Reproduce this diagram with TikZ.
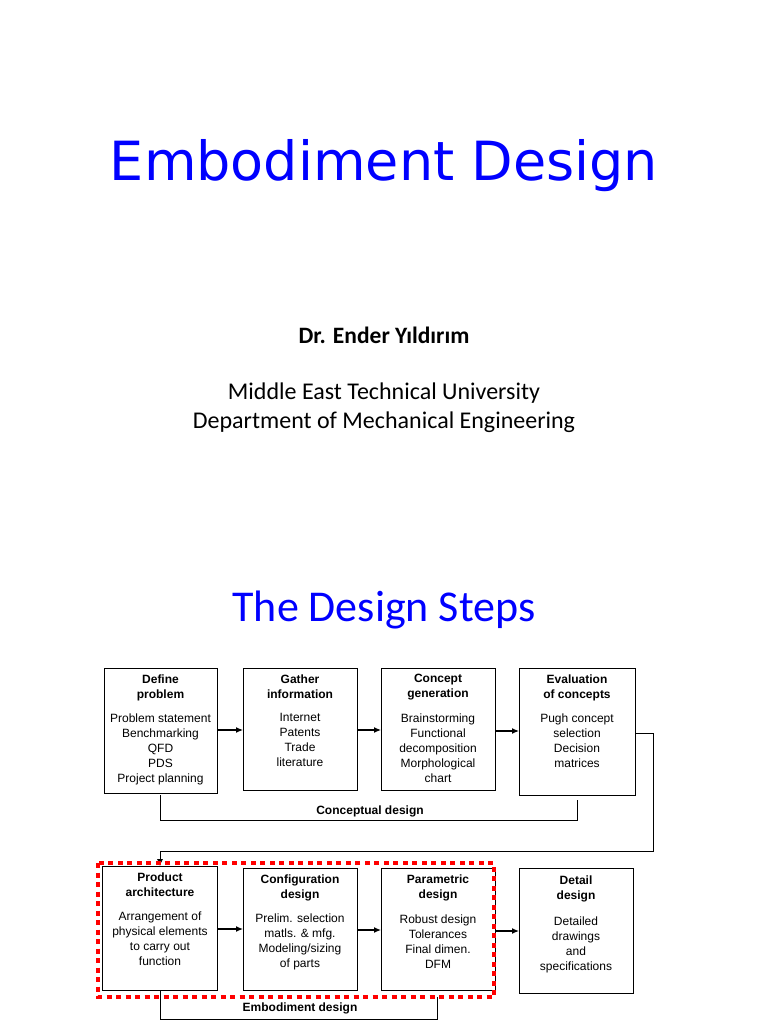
\documentclass[tikz,border=0pt]{standalone}
\usepackage{fontspec}
\setmainfont{Carlito}
\newfontfamily\arial{Liberation Sans}
\newfontfamily\dejavu{DejaVu Sans}
\usetikzlibrary{arrows.meta}
\definecolor{tblue}{RGB}{0,0,255}
\begin{document}
\begin{tikzpicture}[x=1pt,y=-1pt,
  box/.style={draw,line width=1pt,inner sep=0pt},
  lbl/.style={font=\arial\fontsize{12}{15}\selectfont,align=center,anchor=north},
  ttl/.style={font=\arial\bfseries\fontsize{12}{15}\selectfont,align=center,anchor=north},
  arr/.style={line width=1.2pt,-{Latex[length=7pt,width=6pt]}},
  ln/.style={line width=0.8pt}]
\useasboundingbox (0,0) rectangle (768,1024);
\node[text=tblue,font=\dejavu\fontsize{54}{64}\selectfont] (title) at (384,166) {Embodiment Design};
\node[font=\bfseries\fontsize{23.5}{28}\selectfont] (auth) at (384,335) {Dr. Ender Yıldırım};
\node[font=\fontsize{24}{29}\selectfont] (uni) at (384,393) {Middle East Technical University};
\node[font=\fontsize{24}{29}\selectfont] (dep) at (384,422) {Department of Mechanical Engineering};
\node[text=tblue,font=\fontsize{44}{52}\selectfont] (steps) at (384,610) {The Design Steps};
% top row
\node[box,minimum width=113,minimum height=125,anchor=north west] (a1) at (104,668) {};
\node[box,minimum width=114,minimum height=122,anchor=north west] (a2) at (243,668) {};
\node[box,minimum width=114,minimum height=122,anchor=north west] (a3) at (381,668) {};
\node[box,minimum width=116,minimum height=127,anchor=north west] (a4) at (519,668) {};
\node[ttl] (a1t) at (160.5,671) {Define\\problem};
\node[lbl] (a1l) at (160.5,710) {Problem statement\\Benchmarking\\QFD\\PDS\\Project planning};
\node[ttl] (a2t) at (300,671) {Gather\\information};
\node[lbl] (a2l) at (300,710) {Internet\\Patents\\Trade\\literature};
\node[ttl] (a3t) at (438,671) {Concept\\generation};
\node[lbl] (a3l) at (438,710) {Brainstorming\\Functional\\decomposition\\Morphological\\chart};
\node[ttl] (a4t) at (577,671) {Evaluation\\of concepts};
\node[lbl] (a4l) at (577,710) {Pugh concept\\selection\\Decision\\matrices};
\draw[arr] (a1.east |- 0,730) -- (a2.west |- 0,730);
\draw[arr] (a2.east |- 0,730) -- (a3.west |- 0,730);
\draw[arr] (a3.east |- 0,731) -- (a4.west |- 0,731);
% conceptual bracket
\coordinate (c1) at (160,795); \coordinate (c2) at (577,800);
\draw[ln] (c1) -- (160,820) -- (577,820) -- (c2);
\node[ttl,anchor=center,fill=white,inner sep=2pt] (cd) at (370,811) {Conceptual design};
% bottom row
\node[box,minimum width=115,minimum height=124,anchor=north west] (b1) at (102,866) {};
\node[box,minimum width=114,minimum height=122,anchor=north west] (b2) at (243,868) {};
\node[box,minimum width=114,minimum height=122,anchor=north west] (b3) at (381,868) {};
\node[box,minimum width=114,minimum height=125,anchor=north west] (b4) at (519,868) {};
\node[ttl] (b1t) at (160,869) {Product\\architecture};
\node[lbl] (b1l) at (160,908) {Arrangement of\\physical elements\\to carry out\\function};
\node[ttl] (b2t) at (300,871) {Configuration\\design};
\node[lbl] (b2l) at (300,910) {Prelim. selection\\matls. \& mfg.\\Modeling/sizing\\of parts};
\node[ttl] (b3t) at (438,871) {Parametric\\design};
\node[lbl] (b3l) at (438,911) {Robust design\\Tolerances\\Final dimen.\\DFM};
\node[ttl] (b4t) at (576,872) {Detail\\design};
\node[lbl] (b4l) at (576,913) {Detailed\\drawings\\and\\specifications};
\draw[arr] (b1.east |- 0,929) -- (b2.west |- 0,929);
\draw[arr] (b2.east |- 0,930) -- (b3.west |- 0,930);
\draw[arr] (b3.east |- 0,931) -- (b4.west |- 0,931);
% feedback
\draw[ln,-{Latex[length=7pt,width=6pt]}] (a4.east |- 0,733) -- (653,733) -- (653,851) -- (160,851) -- (b1.north -| 160,0);
% red dashed
\draw[red,line width=4pt,dash pattern=on 5pt off 4.5pt] (98,863) rectangle (494,997);
% embodiment bracket
\coordinate (e2) at (437,997);
\draw[ln] (b1.south -| 160,0) -- (160,1019) -- (437,1019) -- (e2);
\node[ttl,anchor=center] (ed) at (300,1008) {Embodiment design};
\end{tikzpicture}
\end{document}
